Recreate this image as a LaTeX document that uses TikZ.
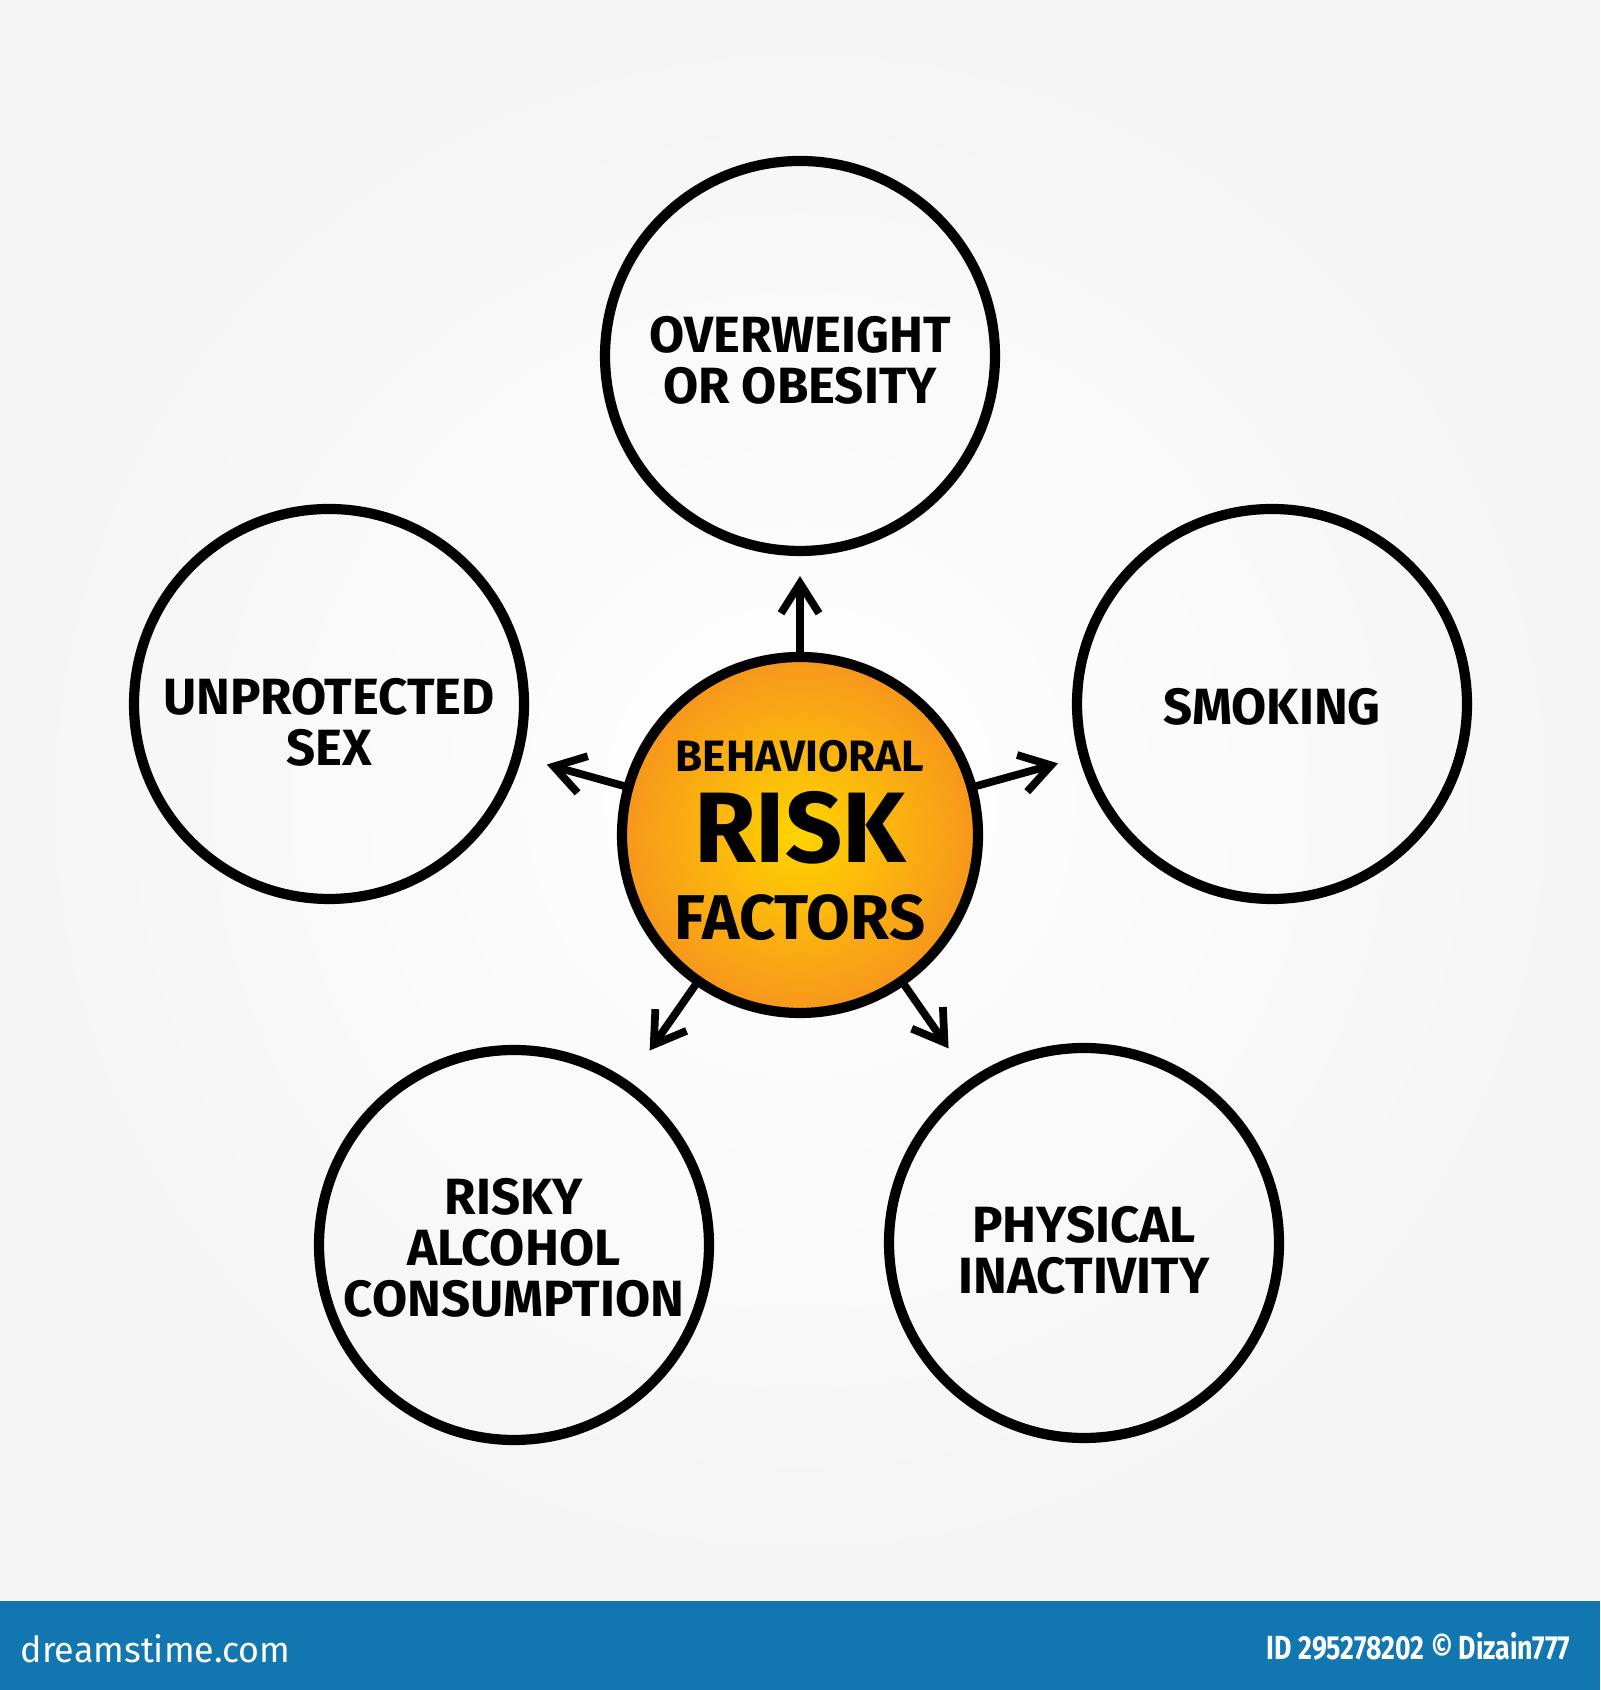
\documentclass[tikz,border=0pt]{standalone}
\usepackage{fontspec}
\setmainfont{Fira Sans}
\usetikzlibrary{arrows.meta,positioning}
\definecolor{barblue}{HTML}{1277B0}
\definecolor{riskin}{HTML}{FFD400}
\definecolor{riskout}{HTML}{F7961C}

\begin{document}
\begin{tikzpicture}[
	factor/.style={circle, draw, line width=2.9pt, minimum size=3.9cm, inner sep=0pt},
	label text/.style={align=center, inner sep=0pt, font=\fontsize{14.5}{14.5}\selectfont\bfseries},
	word/.style={inner sep=0pt, anchor=base},
	arr/.style={-{Straight Barb[length=3mm,width=3.8mm]}, line width=2.2pt, line cap=round}]
	\useasboundingbox (0,0) rectangle (16,16.9);
	\shade[inner color=white, outer color=gray!8] (0,0.89) rectangle (16,16.9);
	\fill[barblue] (0,0) rectangle (16,0.89);

	\node[circle, draw, line width=2.9pt, minimum size=3.56cm, inner sep=0pt,
		inner color=riskin, outer color=riskout] (risk) at (8,8.55) {};
	\node[word, font=\fontsize{12.5}{12.5}\selectfont\bfseries] (behav) at ([yshift=0.63cm]risk.center) {BEHAVIORAL};
	\node[word, font=\fontsize{28.5}{28.5}\selectfont\bfseries] (riskword) at ([yshift=-0.28cm]risk.center) {RISK};
	\node[word, font=\fontsize{18}{18}\selectfont\bfseries] (facts) at ([yshift=-1.05cm]risk.center) {FACTORS};

	\foreach \nm/\x/\y/\dy/\txt in {over/8/13.34/-0.04/{OVERWEIGHT\\OR OBESITY}, unprot/3.29/9.86/-0.18/{UNPROTECTED\\SEX},
		smoke/12.72/9.86/-0.03/{SMOKING}, alco/5.14/4.45/-0.03/{RISKY\\ALCOHOL\\CONSUMPTION}, phys/10.84/4.47/-0.07/{PHYSICAL\\INACTIVITY}} {
		\node[factor] (\nm) at (\x,\y) {};
		\node[label text] (\nm-txt) at ([yshift=\dy cm]\nm.center) {\txt};
	}

	\foreach \nm/\gap in {over/0.2, smoke/0.22, unprot/0.26, alco/0.37, phys/0.37}
		\draw[arr, shorten >=\gap cm] (risk) -- (\nm);

	\node[text=white, font=\fontsize{10.2}{10.2}\selectfont, inner sep=0pt, anchor=base west] (brand) at (0.2,0.27) {dreamstime.com};
	\node[text=white, font=\fontsize{9.5}{9.5}\selectfont\bfseries, inner sep=0pt, anchor=base east] (credit) at (15.71,0.3)
		{\scalebox{0.8}[1]{ID 295278202 © Dizain777}};
\end{tikzpicture}
\end{document}
